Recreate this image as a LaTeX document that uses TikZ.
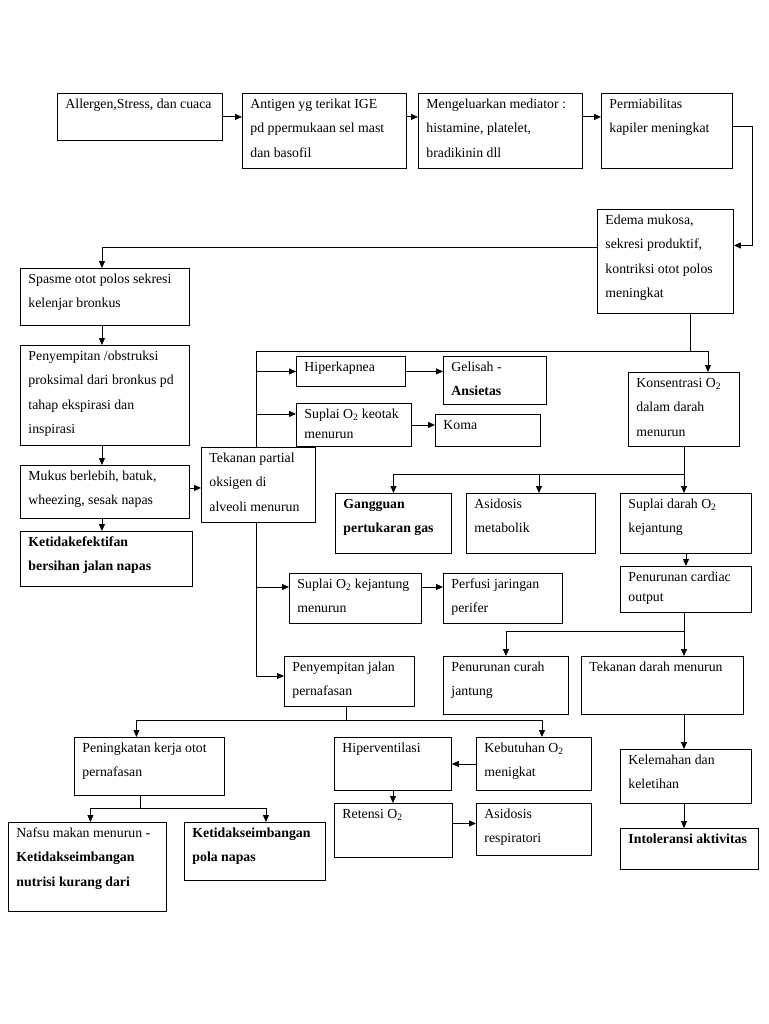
\documentclass[tikz,border=0pt]{standalone}
\usepackage{fontspec}
\setmainfont{Liberation Serif}
\usetikzlibrary{arrows.meta}
\tikzset{
 box/.style={draw, line width=0.9pt, anchor=north west, inner xsep=8pt, inner ysep=0pt, font=\fontsize{13.8}{24.5}\selectfont},
 arr/.style={line width=0.9pt, -{Triangle[length=7pt,width=6pt]}},
 ln/.style={line width=0.9pt}
}
\newcommand\bx[6]{%
 \node[box] (#1) at (#2,#3) {\parbox[c][\dimexpr #5pt-#3pt\relax][t]{\dimexpr #4pt-#2pt-16pt\relax}{\vspace*{5pt}\parbox[t]{300pt}{\raggedright\rule{0pt}{10pt}#6}}};}
\newcommand\Ot{O\textsubscript{2}}
\begin{document}
\begin{tikzpicture}[x=1pt,y=-1pt]
\fill[white] (0,0) rectangle (768,1024);
\useasboundingbox (0,0) rectangle (768,1024);
\bx{n1}{57}{93}{222}{140}{Allergen,Stress, dan cuaca}
\bx{n2}{242}{93}{406}{168}{Antigen yg terikat IGE\\pd ppermukaan sel mast\\dan basofil}
\bx{n3}{418}{93}{582}{168}{Mengeluarkan mediator :\\histamine, platelet,\\bradikinin dll}
\bx{n4}{601}{93}{732}{168}{Permiabilitas\\kapiler meningkat}
\bx{n5}{597}{209}{733}{313}{Edema mukosa,\\sekresi produktif,\\kontriksi otot polos\\meningkat}
\bx{n6}{20}{268}{189}{325}{Spasme otot polos sekresi\\kelenjar bronkus}
\bx{n7}{20}{345}{189}{445}{Penyempitan /obstruksi\\proksimal dari bronkus pd\\tahap ekspirasi dan\\inspirasi}
\bx{n8}{20}{465}{189}{518}{Mukus berlebih, batuk,\\wheezing, sesak napas}
\bx{n9}{20}{531}{192}{586}{\textbf{Ketidakefektifan}\\\textbf{bersihan jalan napas}}
\bx{n10}{201}{447}{315}{522}{Tekanan partial\\oksigen di\\alveoli menurun}
\bx{n11}{296}{356}{405}{386}{Hiperkapnea}
\bx{n12}{443}{356}{546}{404}{Gelisah -\\\textbf{Ansietas}}
\bx{n13}{296}{403}{411}{446}{Suplai \Ot{} keotak\\[-4pt]menurun}
\bx{n14}{435}{414}{540}{446}{Koma}
\bx{n15}{628}{372}{739}{446}{Konsentrasi \Ot\\dalam darah\\menurun}
\bx{n16}{335}{493}{451}{553}{\textbf{Gangguan}\\\textbf{pertukaran gas}}
\bx{n17}{466}{493}{595}{553}{Asidosis\\metabolik}
\bx{n18}{620}{493}{751}{553}{Suplai darah \Ot\\kejantung}
\bx{n19}{620}{566}{751}{612}{Penurunan cardiac\\[-4pt]output}
\bx{n20}{289}{573}{421}{623}{Suplai \Ot{} kejantung\\menurun}
\bx{n21}{443}{573}{562}{623}{Perfusi jaringan\\perifer}
\bx{n22}{284}{656}{414}{706}{Penyempitan jalan\\pernafasan}
\bx{n23}{443}{656}{568}{714}{Penurunan curah\\jantung}
\bx{n24}{581}{656}{743}{714}{Tekanan darah menurun}
\bx{n25}{620}{749}{751}{803}{Kelemahan dan\\keletihan}
\bx{n26}{620}{828}{758}{869}{\textbf{Intoleransi aktivitas}}
\bx{n27}{74}{737}{224}{795}{Peningkatan kerja otot\\pernafasan}
\bx{n28}{8}{822}{166}{911}{Nafsu makan menurun -\\\textbf{Ketidakseimbangan}\\\textbf{nutrisi kurang dari}}
\bx{n29}{184}{822}{325}{880}{\textbf{Ketidakseimbangan}\\\textbf{pola napas}}
\bx{n30}{334}{737}{451}{790}{Hiperventilasi}
\bx{n31}{476}{737}{591}{790}{Kebutuhan \Ot\\menigkat}
\bx{n32}{334}{803}{452}{857}{Retensi \Ot}
\bx{n33}{476}{803}{591}{855}{Asidosis\\respiratori}
% top row
\draw[arr] (n1.east) -- (n1.east -| n2.west);
\draw[arr] (n1.east -| n2.east) -- (n1.east -| n3.west);
\draw[arr] (n1.east -| n3.east) -- (n1.east -| n4.west);
\draw[arr] ([yshift=4pt]n4.east) -- ++(20,0) |- ([yshift=16pt]n5.east);
\draw[arr] ([yshift=14pt]n5.west) -| ([xshift=-3pt]n6.north);
\draw[arr] ([xshift=-3pt]n6.south) -- ([xshift=-3pt]n7.north);
\draw[arr] ([xshift=-3pt]n7.south) -- ([xshift=-3pt]n8.north);
\draw[arr] ([xshift=-3pt]n8.south) -- ([xshift=-3pt]n8.south |- n9.north);
\draw[arr] ([yshift=4pt]n8.east) -- ([yshift=4pt]n8.east -| n10.west);
% upper branch from Tekanan
\coordinate (top) at (256,351);
\coordinate (kt) at ([xshift=24pt]n15.north);
\draw[arr] (top |- n10.north) -- (top) -| (kt);
\draw[ln] ([xshift=25pt]n5.south) -- ([xshift=25pt]n5.south |- top);
\draw[arr] (top |- n11.west) -- (n11.west);
\coordinate (s13) at ([yshift=11pt]n13.west);
\draw[arr] (top |- s13) -- (s13);
\draw[arr] (n11.east) -- (n11.east -| n12.west);
\draw[arr] (n13.east) -- (n13.east -| n14.west);
% Konsentrasi branches
\coordinate (k) at (684,474);
\draw[ln] (k |- n15.south) -- (k);
\draw[arr] (k) -- (k |- n18.north);
\draw[arr] (k) -| (n16.north);
\coordinate (s17) at ([xshift=8pt]n17.north);
\draw[arr] (k -| s17) -- (s17);
\draw[arr] (n18.south) -- (n18.south |- n19.north);
% lower branch from Tekanan
\coordinate (bt) at (256,676);
\coordinate (c) at (256,587);
\draw[arr] (top |- n10.south) -- (bt) -- (bt -| n22.west);
\draw[arr] (c) -- (c -| n20.west);
\draw[arr] (c -| n20.east) -- (c -| n21.west);
% cardiac output branches
\coordinate (d) at (684,631);
\draw[ln] (d |- n19.south) -- (d);
\draw[arr] (d) -| (n23.north);
\draw[arr] (d) -- (d |- n24.north);
\draw[arr] (d |- n24.south) -- (d |- n25.north);
\draw[arr] (d |- n25.south) -- (d |- n26.north);
% Penyempitan jalan branches
\coordinate (e) at (346,720);
\draw[ln] (e |- n22.south) -- (e);
\coordinate (s27) at ([xshift=-13pt]n27.north);
\draw[arr] (e) -| (s27);
\coordinate (s31) at ([xshift=8pt]n31.north);
\draw[arr] (e) -| (s31);
\coordinate (f) at (140,808);
\draw[ln] (f |- n27.south) -- (f);
\coordinate (s28) at ([xshift=3pt]n28.north);
\draw[arr] (f) -| (s28);
\coordinate (s29) at ([xshift=11pt]n29.north);
\draw[arr] (f) -| (s29);
\draw[arr] (n31.west) -- (n31.west -| n30.east);
\draw[arr] (n30.south) -- (n30.south |- n32.north);
\coordinate (s32) at ([yshift=7pt]n32.east);
\draw[arr] (s32) -- (s32 -| n33.west);
\end{tikzpicture}
\end{document}
